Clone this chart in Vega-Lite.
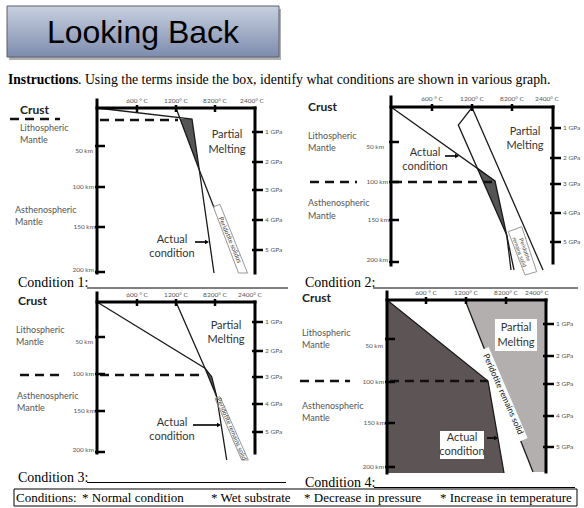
{
  "$schema": "https://vega.github.io/schema/vega-lite/v6.json",
  "width": 584,
  "height": 508,
  "padding": 0,
  "autosize": {"type": "none"},
  "background": "white",
  "config": {"view": {"stroke": null}},
  "datasets": {
    "titlebox": [{"x": 7, "x2": 279, "y": 6, "y2": 57}],
    "title": [{"x": 143, "y": 43, "t": "Looking Back"}],
    "instrB": [{"x": 8, "y": 80, "t": "Instructions"}],
    "instrR": [{"x": 78, "y": 80, "t": ". Using the terms inside the box, identify what conditions are shown in various graph."}],
    "cond": [
      {"x": 18, "y": 287, "t": "Condition 1:"},
      {"x": 305, "y": 287, "t": "Condition 2:"},
      {"x": 18, "y": 482, "t": "Condition 3:"},
      {"x": 305, "y": 487, "t": "Condition 4:"}
    ],
    "underlines": [
      {"x": 87, "y": 288, "x2": 288, "y2": 288},
      {"x": 373, "y": 288, "x2": 578, "y2": 288},
      {"x": 87, "y": 482.5, "x2": 286, "y2": 482.5},
      {"x": 374, "y": 487.5, "x2": 575, "y2": 487.5}
    ],
    "condbox": [{"x": 14, "x2": 577, "y": 489, "y2": 506}],
    "condItems": [
      {"x": 16, "y": 498, "t": "Conditions:"},
      {"x": 82, "y": 498, "t": "* Normal condition"},
      {"x": 211, "y": 498, "t": "* Wet substrate"},
      {"x": 304, "y": 498, "t": "* Decrease in pressure"},
      {"x": 440, "y": 498, "t": "* Increase in temperature"}
    ],
    "light4": [
      {"id": "l4", "y": 300, "x": 465, "x2": 546},
      {"id": "l4", "y": 472, "x": 533, "x2": 546}
    ],
    "dark4": [
      {"id": "d4", "y": 300, "x": 387, "x2": 387},
      {"id": "d4", "y": 381, "x": 387, "x2": 488},
      {"id": "d4", "y": 473, "x": 387, "x2": 504}
    ],
    "tri": [
      {"id": "t1", "y": 119, "x": 180, "x2": 192},
      {"id": "t1", "y": 170, "x": 199.3, "x2": 199.3},
      {"id": "t2", "y": 166.7, "x": 476.7, "x2": 476.7},
      {"id": "t2", "y": 181, "x": 483, "x2": 495},
      {"id": "t2", "y": 235, "x": 506.7, "x2": 506.7},
      {"id": "t3", "y": 368.3, "x": 205, "x2": 205},
      {"id": "t3", "y": 376.7, "x": 208.5, "x2": 211.7},
      {"id": "t3", "y": 396.7, "x": 216.7, "x2": 216.7}
    ],
    "whiteboxes": [
      {"x": 495, "x2": 537, "y": 319, "y2": 351},
      {"x": 440, "x2": 484, "y": 431, "y2": 459}
    ],
    "dashes": [
      {"x": 10, "y": 119, "x2": 60, "y2": 119},
      {"x": 100, "y": 120, "x2": 178, "y2": 120},
      {"x": 310, "y": 182, "x2": 357, "y2": 182},
      {"x": 393, "y": 182, "x2": 493, "y2": 182},
      {"x": 20, "y": 375, "x2": 63, "y2": 375},
      {"x": 100, "y": 375, "x2": 200, "y2": 375},
      {"x": 300, "y": 381, "x2": 350, "y2": 381},
      {"x": 390, "y": 381, "x2": 488, "y2": 381}
    ],
    "lines": [
      {"id": "g1", "o": 1, "x": 97, "y": 108},
      {"id": "g1", "o": 2, "x": 192, "y": 119},
      {"id": "g1", "o": 3, "x": 199.3, "y": 170},
      {"id": "g1", "o": 4, "x": 214, "y": 273},
      {"id": "s1", "o": 1, "x": 176, "y": 108},
      {"id": "s1", "o": 2, "x": 199.3, "y": 170},
      {"id": "s1", "o": 3, "x": 214, "y": 207.5},
      {"id": "g2", "o": 1, "x": 391, "y": 107},
      {"id": "g2", "o": 2, "x": 495, "y": 181},
      {"id": "g2", "o": 3, "x": 506.7, "y": 235},
      {"id": "g2", "o": 4, "x": 511, "y": 270},
      {"id": "s2", "o": 1, "x": 514, "y": 270},
      {"id": "s2", "o": 2, "x": 506.7, "y": 235},
      {"id": "s2", "o": 3, "x": 458.3, "y": 125},
      {"id": "s2", "o": 4, "x": 472, "y": 107.5},
      {"id": "s2", "o": 5, "x": 543, "y": 270},
      {"id": "g3", "o": 1, "x": 97, "y": 302},
      {"id": "g3", "o": 2, "x": 205, "y": 368.3},
      {"id": "g3", "o": 3, "x": 211.7, "y": 376.7},
      {"id": "g3", "o": 4, "x": 216.7, "y": 396.7},
      {"id": "g3", "o": 5, "x": 226.7, "y": 460},
      {"id": "s3", "o": 1, "x": 176, "y": 302},
      {"id": "s3", "o": 2, "x": 205, "y": 368.3},
      {"id": "s3", "o": 3, "x": 216.7, "y": 396.7},
      {"id": "g4", "o": 1, "x": 387, "y": 300},
      {"id": "g4", "o": 2, "x": 488, "y": 381},
      {"id": "g4", "o": 3, "x": 504, "y": 473},
      {"id": "s4", "o": 1, "x": 465, "y": 300},
      {"id": "s4", "o": 2, "x": 533, "y": 472}
    ],
    "bands": [
      {"id": "b1", "o": 1, "x": 213.3, "y": 206.7},
      {"id": "b1", "o": 2, "x": 220, "y": 204.5},
      {"id": "b1", "o": 3, "x": 247.5, "y": 273},
      {"id": "b1", "o": 4, "x": 238.5, "y": 273},
      {"id": "b1", "o": 5, "x": 213.3, "y": 206.7},
      {"id": "b3", "o": 1, "x": 215, "y": 398.3},
      {"id": "b3", "o": 2, "x": 220, "y": 396.7},
      {"id": "b3", "o": 3, "x": 248.3, "y": 460},
      {"id": "b3", "o": 4, "x": 241.7, "y": 460},
      {"id": "b3", "o": 5, "x": 215, "y": 398.3},
      {"id": "b2", "o": 1, "x": 508.3, "y": 231.7},
      {"id": "b2", "o": 2, "x": 521.7, "y": 226.7},
      {"id": "b2", "o": 3, "x": 536.7, "y": 271.7},
      {"id": "b2", "o": 4, "x": 525, "y": 275},
      {"id": "b2", "o": 5, "x": 508.3, "y": 231.7}
    ],
    "whitestrip": [{"x": 484, "y": 349, "x2": 523, "y2": 440}],
    "axes": [
      {"x": 97, "y": 100, "x2": 97, "y2": 273},
      {"x": 97, "y": 108, "x2": 255, "y2": 108},
      {"x": 255, "y": 108, "x2": 255, "y2": 273},
      {"x": 391, "y": 97, "x2": 391, "y2": 265},
      {"x": 391, "y": 107, "x2": 553, "y2": 107},
      {"x": 553, "y": 107, "x2": 553, "y2": 263},
      {"x": 97, "y": 293, "x2": 97, "y2": 453},
      {"x": 97, "y": 302, "x2": 255, "y2": 302},
      {"x": 255, "y": 302, "x2": 255, "y2": 453},
      {"x": 387, "y": 292, "x2": 387, "y2": 473},
      {"x": 387, "y": 300, "x2": 546, "y2": 300},
      {"x": 546, "y": 300, "x2": 546, "y2": 472}
    ],
    "ticks": [
      {"x": 137, "y": 105, "x2": 137, "y2": 112},
      {"x": 176, "y": 105, "x2": 176, "y2": 112},
      {"x": 215, "y": 105, "x2": 215, "y2": 112},
      {"x": 95, "y": 146, "x2": 105, "y2": 146},
      {"x": 95, "y": 187, "x2": 105, "y2": 187},
      {"x": 95, "y": 227, "x2": 105, "y2": 227},
      {"x": 95, "y": 272, "x2": 105, "y2": 272},
      {"x": 252, "y": 132, "x2": 263, "y2": 132},
      {"x": 252, "y": 162, "x2": 263, "y2": 162},
      {"x": 252, "y": 190, "x2": 263, "y2": 190},
      {"x": 252, "y": 220, "x2": 263, "y2": 220},
      {"x": 252, "y": 250, "x2": 263, "y2": 250},
      {"x": 432, "y": 104, "x2": 432, "y2": 111},
      {"x": 472, "y": 104, "x2": 472, "y2": 111},
      {"x": 512, "y": 104, "x2": 512, "y2": 111},
      {"x": 389, "y": 142, "x2": 399, "y2": 142},
      {"x": 389, "y": 182, "x2": 399, "y2": 182},
      {"x": 389, "y": 220, "x2": 399, "y2": 220},
      {"x": 389, "y": 262, "x2": 399, "y2": 262},
      {"x": 550, "y": 128, "x2": 561, "y2": 128},
      {"x": 550, "y": 158, "x2": 561, "y2": 158},
      {"x": 550, "y": 184, "x2": 561, "y2": 184},
      {"x": 550, "y": 213, "x2": 561, "y2": 213},
      {"x": 550, "y": 242, "x2": 561, "y2": 242},
      {"x": 137, "y": 299, "x2": 137, "y2": 306},
      {"x": 176, "y": 299, "x2": 176, "y2": 306},
      {"x": 215, "y": 299, "x2": 215, "y2": 306},
      {"x": 95, "y": 337, "x2": 105, "y2": 337},
      {"x": 95, "y": 374, "x2": 105, "y2": 374},
      {"x": 95, "y": 411, "x2": 105, "y2": 411},
      {"x": 95, "y": 452, "x2": 105, "y2": 452},
      {"x": 252, "y": 322, "x2": 263, "y2": 322},
      {"x": 252, "y": 351, "x2": 263, "y2": 351},
      {"x": 252, "y": 377, "x2": 263, "y2": 377},
      {"x": 252, "y": 404, "x2": 263, "y2": 404},
      {"x": 252, "y": 432, "x2": 263, "y2": 432},
      {"x": 426, "y": 297, "x2": 426, "y2": 304},
      {"x": 466, "y": 297, "x2": 466, "y2": 304},
      {"x": 506, "y": 297, "x2": 506, "y2": 304},
      {"x": 385, "y": 339, "x2": 395, "y2": 339},
      {"x": 385, "y": 382, "x2": 395, "y2": 382},
      {"x": 385, "y": 423, "x2": 395, "y2": 423},
      {"x": 385, "y": 467, "x2": 395, "y2": 467},
      {"x": 543, "y": 324, "x2": 554, "y2": 324},
      {"x": 543, "y": 356, "x2": 554, "y2": 356},
      {"x": 543, "y": 384, "x2": 554, "y2": 384},
      {"x": 543, "y": 416, "x2": 554, "y2": 416},
      {"x": 543, "y": 447, "x2": 554, "y2": 447}
    ],
    "arrows": [
      {"x": 195, "y": 242, "x2": 205, "y2": 242},
      {"x": 445, "y": 156, "x2": 455, "y2": 156},
      {"x": 193, "y": 425, "x2": 217, "y2": 425},
      {"x": 487, "y": 438, "x2": 494, "y2": 438}
    ],
    "heads": [
      {"x": 207, "y": 242},
      {"x": 457, "y": 156},
      {"x": 219, "y": 425},
      {"x": 496, "y": 438}
    ],
    "topLabels": [
      {"x": 137, "y": 101, "t": "600 ° C"}, {"x": 176, "y": 101, "t": "1200° C"}, {"x": 215, "y": 101, "t": "8200° C"}, {"x": 252, "y": 101, "t": "2400° C"},
      {"x": 432, "y": 99, "t": "600 ° C"}, {"x": 472, "y": 99, "t": "1200° C"}, {"x": 512, "y": 99, "t": "8200° C"}, {"x": 547, "y": 99, "t": "2400° C"},
      {"x": 137, "y": 295, "t": "600 ° C"}, {"x": 176, "y": 295, "t": "1200° C"}, {"x": 215, "y": 295, "t": "8200° C"}, {"x": 250, "y": 295, "t": "2400° C"},
      {"x": 426, "y": 293, "t": "600 ° C"}, {"x": 466, "y": 293, "t": "1200° C"}, {"x": 506, "y": 293, "t": "8200° C"}, {"x": 537, "y": 293, "t": "2400° C"}
    ],
    "leftLabels": [
      {"x": 93, "y": 151, "t": "50 km"}, {"x": 94, "y": 187, "t": "100 km"}, {"x": 95, "y": 227, "t": "150 km"}, {"x": 94, "y": 270, "t": "200 km"},
      {"x": 384, "y": 147, "t": "50 km"}, {"x": 388, "y": 182, "t": "100 km"}, {"x": 389, "y": 220, "t": "150 km"}, {"x": 388, "y": 260, "t": "200 km"},
      {"x": 93, "y": 342, "t": "50 km"}, {"x": 94, "y": 374, "t": "100 km"}, {"x": 95, "y": 411, "t": "150 km"}, {"x": 94, "y": 450, "t": "200 km"},
      {"x": 383, "y": 346, "t": "50 km"}, {"x": 384, "y": 382, "t": "100 km"}, {"x": 385, "y": 423, "t": "150 km"}, {"x": 384, "y": 467, "t": "200 km"}
    ],
    "rightLabels": [
      {"x": 265, "y": 132, "t": "1 GPa"}, {"x": 265, "y": 162, "t": "2 GPa"}, {"x": 265, "y": 190, "t": "3 GPa"}, {"x": 265, "y": 220, "t": "4 GPa"}, {"x": 265, "y": 250, "t": "5 GPa"},
      {"x": 563, "y": 128, "t": "1 GPa"}, {"x": 563, "y": 158, "t": "2 GPa"}, {"x": 563, "y": 184, "t": "3 GPa"}, {"x": 563, "y": 213, "t": "4 GPa"}, {"x": 563, "y": 242, "t": "5 GPa"},
      {"x": 265, "y": 322, "t": "1 GPa"}, {"x": 265, "y": 351, "t": "2 GPa"}, {"x": 265, "y": 377, "t": "3 GPa"}, {"x": 265, "y": 404, "t": "4 GPa"}, {"x": 265, "y": 432, "t": "5 GPa"},
      {"x": 556, "y": 324, "t": "1 GPa"}, {"x": 556, "y": 356, "t": "2 GPa"}, {"x": 556, "y": 384, "t": "3 GPa"}, {"x": 556, "y": 416, "t": "4 GPa"}, {"x": 556, "y": 447, "t": "5 GPa"}
    ],
    "crust": [
      {"x": 20, "y": 110, "t": "Crust"},
      {"x": 308, "y": 107, "t": "Crust"},
      {"x": 18, "y": 301, "t": "Crust"},
      {"x": 302, "y": 298, "t": "Crust"}
    ],
    "region": [
      {"x": 20, "y": 128, "t": "Lithospheric"}, {"x": 20, "y": 140, "t": "Mantle"},
      {"x": 15, "y": 210, "t": "Asthenospheric"}, {"x": 15, "y": 222, "t": "Mantle"},
      {"x": 308, "y": 136, "t": "Lithospheric"}, {"x": 308, "y": 148, "t": "Mantle"},
      {"x": 308, "y": 203, "t": "Asthenospheric"}, {"x": 308, "y": 216, "t": "Mantle"},
      {"x": 16, "y": 330, "t": "Lithospheric"}, {"x": 16, "y": 342, "t": "Mantle"},
      {"x": 17, "y": 396, "t": "Asthenospheric"}, {"x": 17, "y": 408, "t": "Mantle"},
      {"x": 302, "y": 333, "t": "Lithospheric"}, {"x": 302, "y": 345, "t": "Mantle"},
      {"x": 302, "y": 406, "t": "Asthenospheric"}, {"x": 302, "y": 418, "t": "Mantle"}
    ],
    "big": [
      {"x": 227, "y": 135, "t": "Partial"}, {"x": 227, "y": 150, "t": "Melting"},
      {"x": 172, "y": 240, "t": "Actual"}, {"x": 172, "y": 254, "t": "condition"},
      {"x": 525, "y": 132, "t": "Partial"}, {"x": 525, "y": 146, "t": "Melting"},
      {"x": 425, "y": 153, "t": "Actual"}, {"x": 425, "y": 167, "t": "condition"},
      {"x": 226, "y": 326, "t": "Partial"}, {"x": 226, "y": 340, "t": "Melting"},
      {"x": 172, "y": 423, "t": "Actual"}, {"x": 172, "y": 437, "t": "condition"},
      {"x": 516, "y": 328, "t": "Partial"}, {"x": 516, "y": 343, "t": "Melting"},
      {"x": 462, "y": 438, "t": "Actual"}, {"x": 462, "y": 452, "t": "condition"}
    ],
    "bandText": [
      {"x": 230, "y": 240, "t": "Peridotite solidus"},
      {"x": 231.5, "y": 429, "t": "Peridotite remains solid"}
    ],
    "boxText": [
      {"x": 525, "y": 249.5, "t": "Peridotite"},
      {"x": 519.5, "y": 252, "t": "remains solid"}
    ],
    "text4": [{"x": 503.5, "y": 394, "t": "Peridotite remains solid"}]
  },
  "encoding": {
    "x": {"field": "x", "type": "quantitative", "scale": {"domain": [0, 584], "nice": false, "zero": false}, "axis": null},
    "y": {"field": "y", "type": "quantitative", "scale": {"domain": [0, 508], "nice": false, "zero": false, "reverse": true}, "axis": null}
  },
  "layer": [
    {"data": {"name": "titlebox"}, "mark": {"type": "rect", "fill": "#6f6f6f", "opacity": 0.55, "xOffset": 2, "x2Offset": 2, "yOffset": 3, "y2Offset": 3},
     "encoding": {"x2": {"field": "x2"}, "y2": {"field": "y2"}}},
    {"data": {"name": "titlebox"}, "mark": {"type": "rect", "stroke": "#5a5f6b", "strokeWidth": 1,
      "fill": {"gradient": "linear", "x1": 0, "y1": 0, "x2": 0, "y2": 1, "stops": [{"offset": 0, "color": "#c8d0df"}, {"offset": 1, "color": "#7d8bad"}]}},
     "encoding": {"x2": {"field": "x2"}, "y2": {"field": "y2"}}},
    {"data": {"name": "title"}, "mark": {"type": "text", "font": "Liberation Sans", "fontSize": 32, "align": "center", "baseline": "alphabetic", "color": "#000000"},
     "encoding": {"text": {"field": "t"}}},
    {"data": {"name": "instrB"}, "mark": {"type": "text", "font": "Liberation Serif", "fontSize": 13.6, "fontWeight": "bold", "align": "left", "baseline": "middle", "color": "#000000"},
     "encoding": {"text": {"field": "t"}}},
    {"data": {"name": "instrR"}, "mark": {"type": "text", "font": "Liberation Serif", "fontSize": 13.8, "align": "left", "baseline": "middle", "color": "#000000"},
     "encoding": {"text": {"field": "t"}}},
    {"data": {"name": "light4"}, "mark": {"type": "area", "orient": "horizontal", "color": "#b4afaf", "opacity": 1},
     "encoding": {"x2": {"field": "x2"}, "detail": {"field": "id"}}},
    {"data": {"name": "dark4"}, "mark": {"type": "area", "orient": "horizontal", "color": "#5d5555", "opacity": 1},
     "encoding": {"x2": {"field": "x2"}, "detail": {"field": "id"}}},
    {"data": {"name": "tri"}, "mark": {"type": "area", "orient": "horizontal", "color": "#555555", "opacity": 1},
     "encoding": {"x2": {"field": "x2"}, "detail": {"field": "id"}}},
    {"data": {"name": "whiteboxes"}, "mark": {"type": "rect", "fill": "#ffffff"},
     "encoding": {"x2": {"field": "x2"}, "y2": {"field": "y2"}}},
    {"data": {"name": "dashes"}, "mark": {"type": "rule", "color": "#111111", "strokeWidth": 2.5, "strokeDash": [9, 6]},
     "encoding": {"x2": {"field": "x2"}, "y2": {"field": "y2"}}},
    {"data": {"name": "lines"}, "mark": {"type": "line", "color": "#1a1a1a", "strokeWidth": 1.3},
     "encoding": {"detail": {"field": "id"}, "order": {"field": "o"}}},
    {"data": {"name": "bands"}, "mark": {"type": "line", "color": "#8c8c8c", "strokeWidth": 0.9},
     "encoding": {"detail": {"field": "id"}, "order": {"field": "o"}}},
    {"data": {"name": "whitestrip"}, "mark": {"type": "rule", "color": "#ffffff", "strokeWidth": 10},
     "encoding": {"x2": {"field": "x2"}, "y2": {"field": "y2"}}},
    {"data": {"name": "axes"}, "mark": {"type": "rule", "color": "#000000", "strokeWidth": 3, "strokeCap": "square"},
     "encoding": {"x2": {"field": "x2"}, "y2": {"field": "y2"}}},
    {"data": {"name": "ticks"}, "mark": {"type": "rule", "color": "#000000", "strokeWidth": 2.5},
     "encoding": {"x2": {"field": "x2"}, "y2": {"field": "y2"}}},
    {"data": {"name": "arrows"}, "mark": {"type": "rule", "color": "#000000", "strokeWidth": 1.6},
     "encoding": {"x2": {"field": "x2"}, "y2": {"field": "y2"}}},
    {"data": {"name": "heads"}, "mark": {"type": "point", "shape": "triangle-right", "filled": true, "color": "#000000", "size": 22, "opacity": 1}},
    {"data": {"name": "underlines"}, "mark": {"type": "rule", "color": "#000000", "strokeWidth": 1},
     "encoding": {"x2": {"field": "x2"}, "y2": {"field": "y2"}}},
    {"data": {"name": "condbox"}, "mark": {"type": "rect", "fill": null, "stroke": "#000000", "strokeWidth": 1},
     "encoding": {"x2": {"field": "x2"}, "y2": {"field": "y2"}}},
    {"data": {"name": "cond"}, "mark": {"type": "text", "font": "Liberation Serif", "fontSize": 14, "align": "left", "baseline": "alphabetic", "color": "#000000"},
     "encoding": {"text": {"field": "t"}}},
    {"data": {"name": "condItems"}, "mark": {"type": "text", "font": "Liberation Serif", "fontSize": 13, "align": "left", "baseline": "middle", "color": "#000000"},
     "encoding": {"text": {"field": "t"}}},
    {"data": {"name": "topLabels"}, "mark": {"type": "text", "font": "Lato", "fontSize": 6.5, "align": "center", "baseline": "middle", "color": "#555555"},
     "encoding": {"text": {"field": "t"}}},
    {"data": {"name": "leftLabels"}, "mark": {"type": "text", "font": "Lato", "fontSize": 6.5, "align": "right", "baseline": "middle", "color": "#555555"},
     "encoding": {"text": {"field": "t"}}},
    {"data": {"name": "rightLabels"}, "mark": {"type": "text", "font": "Lato", "fontSize": 6.5, "align": "left", "baseline": "middle", "color": "#555555"},
     "encoding": {"text": {"field": "t"}}},
    {"data": {"name": "crust"}, "mark": {"type": "text", "font": "Lato", "fontSize": 12, "fontWeight": "bold", "align": "left", "baseline": "middle", "color": "#222222"},
     "encoding": {"text": {"field": "t"}}},
    {"data": {"name": "region"}, "mark": {"type": "text", "font": "Lato", "fontSize": 9, "align": "left", "baseline": "middle", "color": "#555555"},
     "encoding": {"text": {"field": "t"}}},
    {"data": {"name": "big"}, "mark": {"type": "text", "font": "Lato", "fontSize": 11, "align": "center", "baseline": "middle", "color": "#333333"},
     "encoding": {"text": {"field": "t"}}},
    {"data": {"name": "bandText"}, "mark": {"type": "text", "font": "Lato", "fontSize": 6.5, "align": "center", "baseline": "middle", "angle": 67, "color": "#444444"},
     "encoding": {"text": {"field": "t"}}},
    {"data": {"name": "boxText"}, "mark": {"type": "text", "font": "Lato", "fontSize": 5.5, "align": "center", "baseline": "middle", "angle": 70, "color": "#444444"},
     "encoding": {"text": {"field": "t"}}},
    {"data": {"name": "text4"}, "mark": {"type": "text", "font": "Lato", "fontSize": 8.5, "align": "center", "baseline": "middle", "angle": 66, "color": "#111111"},
     "encoding": {"text": {"field": "t"}}}
  ]
}
